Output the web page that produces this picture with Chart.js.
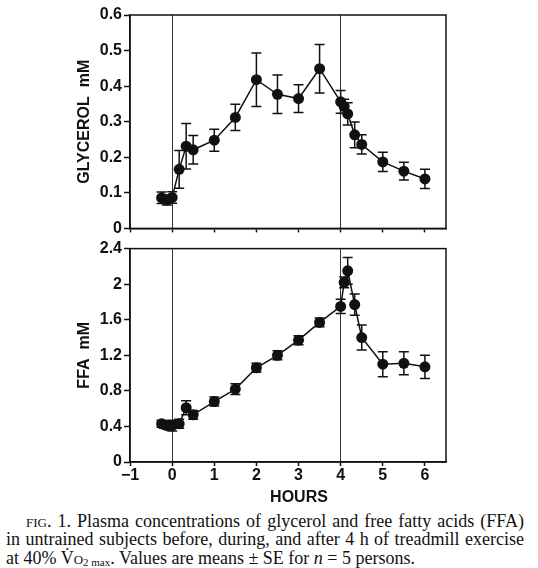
<!DOCTYPE html>
<html>
<head>
<meta charset="utf-8">
<script src="https://cdn.jsdelivr.net/npm/chart.js@4.4.0/dist/chart.umd.min.js"></script>
<style>
  html, body { margin: 0; padding: 0; background: #fff; }
  #wrap { position: relative; width: 538px; height: 568px; overflow: hidden; }
  canvas { position: absolute; left: 0; }
  #top { top: 0; }
  #bottom { top: 237px; }
  #xtitle {
    position: absolute; left: 249px; top: 489px; width: 100px; text-align: center;
    font: bold 16px/16px "Liberation Sans", Arial, sans-serif; color: #111;
  }
  #caption {
    position: absolute; left: 6px; top: 512px; width: 518px;
    font: 18px/18.3px "Liberation Serif", "Times New Roman", serif; color: #111;
  }
  #caption .j { text-align: justify; text-align-last: justify; }
  #caption .sc { font-variant: small-caps; }
  #caption sub { font-size: 11px; vertical-align: -2px; line-height: 0; }
</style>
</head>
<body>
<div id="wrap">
  <canvas id="top" width="538" height="240"></canvas>
  <canvas id="bottom" width="538" height="255"></canvas>
  <div id="xtitle">HOURS</div>
  <div id="caption">
    <div class="j" style="margin-left:20px"><span class="sc">fig.</span> 1. Plasma concentrations of glycerol and free fatty acids (FFA)</div>
    <div class="j">in untrained subjects before, during, and after 4 h of treadmill exercise</div>
    <div>at 40% V&#775;<span class="sc">o</span><sub>2 max</sub>. Values are means &plusmn; SE for <i>n</i> = 5 persons.</div>
  </div>
</div>
<script>
// time of each sample, hours from start of exercise
const hours = [-0.25, -0.125, 0, 0.167, 0.333, 0.5, 1, 1.5, 2, 2.5, 3, 3.5, 4, 4.083, 4.167, 4.333, 4.5, 5, 5.5, 6];

// glycerol, mM (mean and SE)
const glycerol   = [0.086, 0.080, 0.087, 0.166, 0.231, 0.221, 0.248, 0.312, 0.418, 0.377, 0.365, 0.449, 0.356, 0.343, 0.322, 0.263, 0.236, 0.187, 0.161, 0.139];
const glycerolSE = [0.016, 0.014, 0.016, 0.053, 0.064, 0.040, 0.031, 0.037, 0.075, 0.054, 0.039, 0.068, 0.032, 0.020, 0.031, 0.036, 0.027, 0.027, 0.025, 0.027];

// FFA, mM (mean and SE)
const ffa   = [0.43, 0.41, 0.41, 0.43, 0.61, 0.53, 0.68, 0.82, 1.06, 1.20, 1.37, 1.57, 1.75, 2.02, 2.15, 1.77, 1.40, 1.10, 1.11, 1.07];
const ffaSE = [0.04, 0.04, 0.06, 0.05, 0.08, 0.05, 0.05, 0.06, 0.05, 0.05, 0.05, 0.05, 0.08, 0.06, 0.15, 0.12, 0.14, 0.14, 0.13, 0.13];

// tick labels
const glycerolLabels = [0, 0.1, 0.2, 0.3, 0.4, 0.5, 0.6];
const ffaLabels = [0, 0.4, 0.8, 1.2, 1.6, 2, 2.4];
const markerHours = [0, 4];   // start and end of exercise

const INK = '#111';
const tickFont = { family: 'Liberation Sans', size: 16, weight: 'bold' };

// draws mean +/- SE whiskers from dataset.se
const errorBars = {
  id: 'errorBars',
  afterDatasetsDraw(chart) {
    const { ctx, scales: { x, y } } = chart;
    const ds = chart.data.datasets[0];
    ctx.save();
    ctx.strokeStyle = INK;
    ctx.lineWidth = 1.5;
    ds.data.forEach((p, i) => {
      const px = x.getPixelForValue(p.x);
      const hi = y.getPixelForValue(p.y + ds.se[i]);
      const lo = y.getPixelForValue(p.y - ds.se[i]);
      ctx.beginPath();
      ctx.moveTo(px, hi); ctx.lineTo(px, lo);
      ctx.moveTo(px - 5, hi); ctx.lineTo(px + 5, hi);
      ctx.moveTo(px - 5, lo); ctx.lineTo(px + 5, lo);
      ctx.stroke();
    });
    ctx.restore();
  }
};

// box round the plot area
const frame = {
  id: 'frame',
  beforeDatasetsDraw(chart) {
    const { ctx, chartArea: a } = chart;
    ctx.save();
    ctx.strokeStyle = INK;
    ctx.lineWidth = 1.5;
    ctx.strokeRect(a.left, a.top, a.right - a.left, a.bottom - a.top);
    ctx.restore();
  }
};

function fmt(v) { return Number(v.toFixed(1)).toString(); }

function makePanel(id, values, se, yMax, yStep, labels, yTitle, showX, padTop, xHeight) {
  return new Chart(document.getElementById(id), {
    type: 'line',
    data: {
      datasets: [{
        data: hours.map((h, i) => ({ x: h, y: values[i] })),
        se: se,
        borderColor: INK,
        borderWidth: 1.5,
        backgroundColor: INK,
        pointRadius: 5.5,
        pointBorderWidth: 0,
        tension: 0
      }]
    },
    options: {
      responsive: false,
      animation: false,
      events: [],
      layout: { padding: { top: padTop, right: 92, left: 71, bottom: 0 } },
      plugins: { legend: { display: false }, tooltip: { enabled: false } },
      scales: {
        x: {
          type: 'linear', min: -1, max: 6.5,
          afterFit: s => { s.height = xHeight; },
          ticks: {
            display: showX, stepSize: 1, includeBounds: false, color: INK, font: tickFont, padding: 0,
            callback: v => v < 0 ? '\u2212' + Math.abs(v) : String(v)
          },
          grid: {
            color: c => (c.tick && markerHours.includes(c.tick.value)) ? '#333' : 'rgba(0,0,0,0)',
            lineWidth: 1,
            tickColor: INK, tickWidth: 1.5, tickLength: 4
          },
          border: { color: INK, width: 1.5 }
        },
        y: {
          type: 'linear', min: 0, max: yMax,
          afterFit: s => { s.width = 59; },
          ticks: {
            stepSize: yStep, maxTicksLimit: 30, color: INK, font: tickFont, padding: 2,
            callback: v => labels.some(l => Math.abs(l - v) < 1e-6) ? fmt(v) : ''
          },
          grid: { drawOnChartArea: false, tickColor: INK, tickWidth: 1.5, tickLength: 6 },
          border: { color: INK, width: 1.5 },
          title: {
            display: true, text: yTitle, color: INK,
            font: { family: 'Liberation Sans', size: 16, weight: 'bold' },
            padding: { top: 4, bottom: 0 }
          }
        }
      }
    },
    plugins: [frame, errorBars]
  });
}

makePanel('top', glycerol, glycerolSE, 0.6, 0.1, glycerolLabels, 'GLYCEROL  mM', false, 15, 10);
makePanel('bottom', ffa, ffaSE, 2.4, 0.2, ffaLabels, 'FFA  mM', true, 10, 30);
</script>
</body>
</html>
